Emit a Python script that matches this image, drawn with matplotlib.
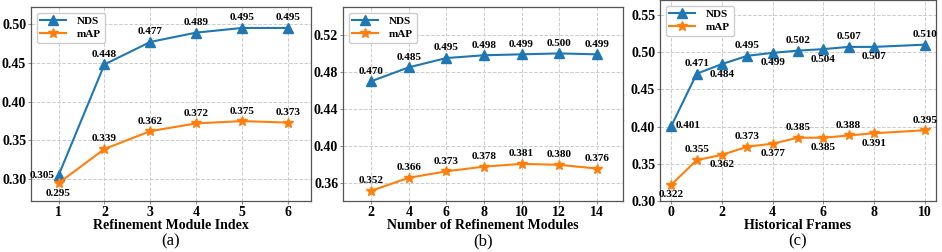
import matplotlib
matplotlib.use("Agg")
import matplotlib.pyplot as plt

plt.rcParams['font.family'] = ['Liberation Serif', 'DejaVu Serif']
plt.rcParams['font.weight'] = 'bold'

# Panel (a)
a_x = [1, 2, 3, 4, 5, 6]
a_nds = [0.305, 0.448, 0.477, 0.489, 0.495, 0.495]
a_map = [0.295, 0.339, 0.362, 0.372, 0.375, 0.373]
# Panel (b)
b_x = [2, 4, 6, 8, 10, 12, 14]
b_nds = [0.470, 0.485, 0.495, 0.498, 0.499, 0.500, 0.499]
b_map = [0.352, 0.366, 0.373, 0.378, 0.381, 0.380, 0.376]
# Panel (c)
c_x = [0, 1, 2, 3, 4, 5, 6, 7, 8, 10]
c_nds = [0.401, 0.471, 0.484, 0.495, 0.499, 0.502, 0.504, 0.507, 0.507, 0.510]
c_map = [0.322, 0.355, 0.362, 0.373, 0.377, 0.385, 0.385, 0.388, 0.391, 0.395]

xlabels = ['Refinement Module Index', 'Number of Refinement Modules', 'Historical Frames']
captions = ['(a)', '(b)', '(c)']

BLUE = '#1f77b4'
ORANGE = '#ff7f0e'

fig = plt.figure(figsize=(9.42, 2.52), dpi=100)
W, H = 942, 252
def box(l, r, t, b):
    return [l / W, 1 - b / H, (r - l) / W, (b - t) / H]

axA = fig.add_axes(box(31, 311, 7, 201))
axB = fig.add_axes(box(343, 623, 7, 201))
axC = fig.add_axes(box(660, 936, 0, 201))

# label placement: 'a' above, 'b' below, 'l' left, 'r' right
placeA_n = ['l', 'a', 'a', 'a', 'a', 'a']
placeA_m = ['b', 'a', 'a', 'a', 'a', 'a']
placeB_n = ['a'] * 7
placeB_m = ['a'] * 7
placeC_n = ['r', 'a', 'b', 'a', 'b', 'a', 'b', 'a', 'b', 'a']
placeC_m = ['b', 'a', 'b', 'a', 'b', 'a', 'b', 'a', 'b', 'a']

def annotate(ax, xs, ys, places):
    for x, y, p in zip(xs, ys, places):
        if p == 'a':
            kw = dict(xytext=(0, 4), ha='center', va='bottom')
        elif p == 'b':
            kw = dict(xytext=(0, -4), ha='center', va='top')
        elif p == 'l':
            kw = dict(xytext=(-3, 0), ha='right', va='center')
        else:
            kw = dict(xytext=(3, 0), ha='left', va='center')
        ax.annotate(f'{y:.3f}', (x, y), textcoords='offset points',
                    fontsize=8, fontweight='bold', **kw)

panels = [
    (axA, a_x, a_nds, a_map, placeA_n, placeA_m),
    (axB, b_x, b_nds, b_map, placeB_n, placeB_m),
    (axC, c_x, c_nds, c_map, placeC_n, placeC_m),
]

for i, (ax, xs, nds, mp, pn, pm) in enumerate(panels):
    ax.plot(xs, nds, color=BLUE, marker='^', markersize=7, linewidth=1.5, label='NDS')
    ax.plot(xs, mp, color=ORANGE, marker='*', markersize=7, linewidth=1.5, label='mAP')
    annotate(ax, xs, nds, pn)
    annotate(ax, xs, mp, pm)
    ax.grid(True, linestyle='--', color='#cccccc', linewidth=0.7)
    ax.set_axisbelow(True)
    ax.set_xticks(xs if i != 2 else [0, 2, 4, 6, 8, 10])
    ax.tick_params(labelsize=10, length=2, width=0.6, pad=1.5, color='#777777')
    ax.set_xlabel(xlabels[i], fontsize=10, fontweight='bold', labelpad=0)
    for s in ax.spines.values():
        s.set_color('#555555')
        s.set_linewidth(0.9)
    ax.legend(loc='upper left', prop={'weight': 'bold', 'size': 8},
              handlelength=2.3, handletextpad=1.0, borderpad=0.35,
              labelspacing=0.3, borderaxespad=0.5,
              framealpha=1, edgecolor='#cccccc', fancybox=True)

axA.set_xlim(0.4, 6.5)
axA.set_ylim(0.272, 0.522)
axA.set_yticks([0.30, 0.35, 0.40, 0.45, 0.50])
axA.set_yticklabels(['0.30', '0.35', '0.40', '0.45', '0.50'])

axB.set_xlim(0.5, 15.4)
axB.set_ylim(0.341, 0.550)
axB.set_yticks([0.36, 0.40, 0.44, 0.48, 0.52])
axB.set_yticklabels(['0.36', '0.40', '0.44', '0.48', '0.52'])

axC.set_xlim(-0.45, 10.45)
axC.set_ylim(0.30, 0.570)
axC.set_yticks([0.30, 0.35, 0.40, 0.45, 0.50, 0.55])
axC.set_yticklabels(['0.30', '0.35', '0.40', '0.45', '0.50', '0.55'])

for ax in (axA, axB, axC):
    for lab in ax.get_xticklabels() + ax.get_yticklabels():
        lab.set_fontweight('bold')

centers = [(31 + 311) / 2, (343 + 623) / 2, (660 + 936) / 2]
for c, cap in zip(centers, captions):
    fig.text(c / W, 1 - 241 / H, cap, ha='center', va='center', fontsize=12,
             fontweight='normal')

fig.savefig('out.png', dpi=100)
